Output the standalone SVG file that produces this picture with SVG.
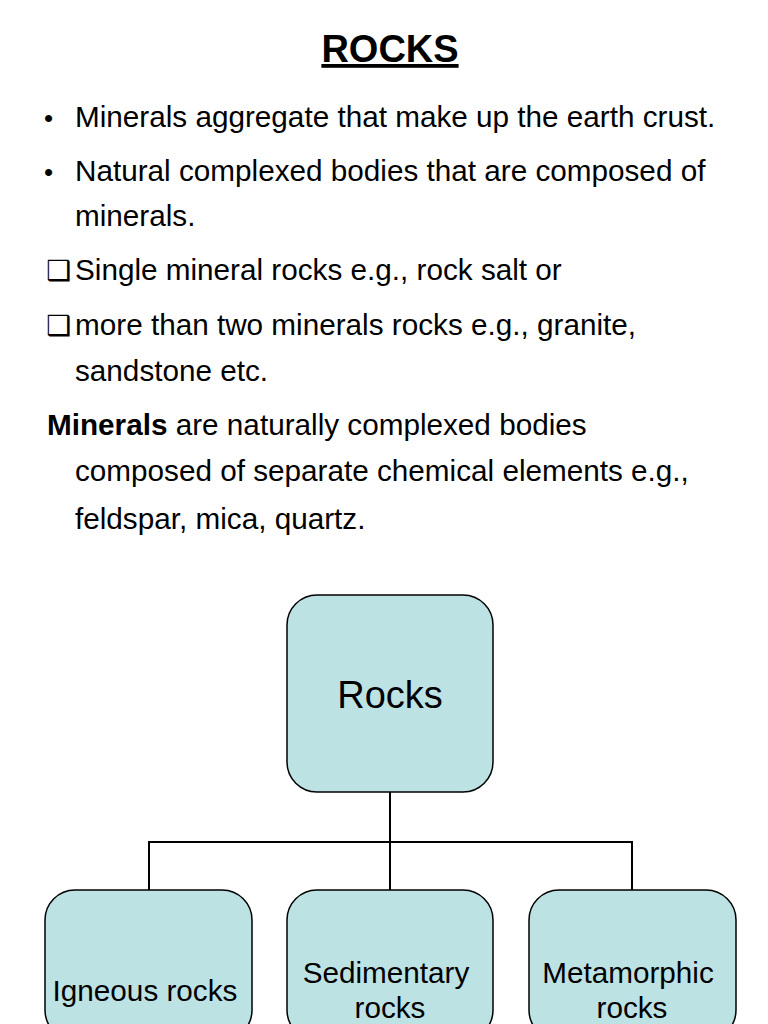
<svg xmlns="http://www.w3.org/2000/svg" width="768" height="1024" viewBox="0 0 768 1024">
<style>
.t{font-family:"Liberation Sans",Arial,sans-serif;font-size:29.7px;fill:#000}
.c{font-family:"DejaVu Sans",sans-serif;font-size:28px;fill:#000}
.box{fill:#bde2e4;stroke:#000;stroke-width:1.5}
.ln{stroke:#000;stroke-width:2;fill:none}
</style>
<rect width="768" height="1024" fill="#fff"/>
<text x="390" y="62" text-anchor="middle" class="t" style="font-size:38px;font-weight:bold;text-decoration:underline">ROCKS</text>
<g class="t">
<text x="44" y="127" style="font-size:26px">•</text><text x="75" y="127">Minerals aggregate that make up the earth crust.</text>
<text x="44" y="181" style="font-size:26px">•</text><text x="75" y="181">Natural complexed bodies that are composed of</text>
<text x="75" y="226">minerals.</text>
<text x="75" y="280">Single mineral rocks e.g., rock salt or</text>
<text x="75" y="335">more than two minerals rocks e.g., granite,</text>
<text x="75" y="381">sandstone etc.</text>
<text x="47" y="435"><tspan font-weight="bold">Minerals</tspan> are naturally complexed bodies</text>
<text x="75" y="481">composed of separate chemical elements e.g.,</text>
<text x="75" y="529">feldspar, mica, quartz.</text>
</g>
<text x="46" y="280" class="c">❑</text>
<text x="46" y="335" class="c">❑</text>
<g id="connectors" class="ln">
<path d="M390 792V842M149 890V842H632V890M390 842V890"/>
</g>
<g id="rocks"><rect class="box" x="287" y="595" width="206" height="197" rx="30"/><text x="390" y="708" text-anchor="middle" class="t" style="font-size:38px">Rocks</text></g>
<g id="igneous"><rect class="box" x="45" y="890" width="207" height="150" rx="30"/><text x="145" y="1001" text-anchor="middle" class="t">Igneous rocks</text></g>
<g id="sedimentary"><rect class="box" x="287" y="890" width="206" height="150" rx="30"/><text x="386" y="983" text-anchor="middle" class="t">Sedimentary</text><text x="390" y="1018" text-anchor="middle" class="t">rocks</text></g>
<g id="metamorphic"><rect class="box" x="529" y="890" width="207" height="150" rx="30"/><text x="628" y="983" text-anchor="middle" class="t">Metamorphic</text><text x="632" y="1018" text-anchor="middle" class="t">rocks</text></g>
</svg>
